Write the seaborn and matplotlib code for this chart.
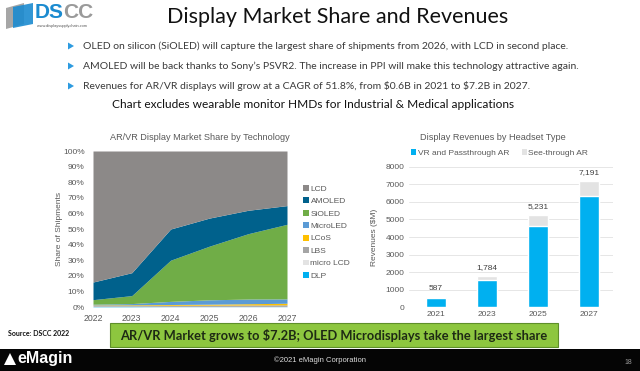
import matplotlib
matplotlib.use("Agg")
import matplotlib.pyplot as plt
import seaborn as sns
import pandas as pd
from matplotlib.patches import Rectangle, Polygon, Patch
from matplotlib.ticker import FuncFormatter

# --- data ---
years = [2022, 2023, 2024, 2025, 2026, 2027]
techs = ["DLP", "micro LCD", "LBS", "LCoS", "MicroLED", "SiOLED", "AMOLED", "LCD"]
dlp = [0.2, 0.2, 0.1, 0.1, 0.1, 0.1]
micro_lcd = [0.3, 0.3, 0.3, 0.3, 0.3, 0.3]
lbs = [0.5, 0.5, 0.7, 0.8, 0.9, 1.0]
lcos = [0.3, 0.4, 0.5, 0.6, 0.8, 1.0]
microled = [0.5, 0.8, 2.0, 2.8, 3.0, 2.8]
sioled = [2.9, 5.1, 26.4, 34.4, 41.9, 47.8]
amoled = [11.3, 14.7, 20.0, 18.0, 15.0, 12.0]
lcd = [84.0, 78.0, 50.0, 43.0, 38.0, 35.0]
tech_colors = ["#00B0F0", "#E3E3E3", "#A5A5A5", "#FFC000", "#5B9BD5", "#70AD47", "#00618C", "#8C8988"]

rev_years = ["2021", "2023", "2025", "2027"]
vr_passthrough = [550, 1560, 4630, 6340]
see_through = [37, 224, 601, 851]
rev_labels = ["587", "1,784", "5,231", "7,191"]

bullets = [
    "OLED on silicon (SiOLED) will capture the largest share of shipments from 2026, with LCD in second place.",
    "AMOLED will be back thanks to Sony\u2019s PSVR2. The increase in PPI will make this technology attractive again.",
    "Revenues for AR/VR displays will grow at a CAGR of 51.8%, from \\$0.6B in 2021 to \\$7.2B in 2027.",
]

sns.set_theme(style="white")
plt.rcParams["font.family"] = ["Liberation Sans", "DejaVu Sans"]
slide_font = ["Lato", "DejaVu Sans"]
W, H = 640, 371


def fx(px):
    return px / W


def fy(py):
    return 1 - py / H


fig = plt.figure(figsize=(6.4, 3.71), dpi=100)
fig.patch.set_facecolor("white")

# --- header: logo + title ---
fig.patches.append(Polygon([[fx(6), fy(8)], [fx(24), fy(3)], [fx(24), fy(24)], [fx(6), fy(29)]],
                           closed=True, transform=fig.transFigure, facecolor="#A6A6A6", edgecolor="none"))
fig.patches.append(Polygon([[fx(13), fy(7)], [fx(33), fy(3)], [fx(33), fy(24)], [fx(13), fy(28)]],
                           closed=True, transform=fig.transFigure, facecolor="#1B8BD0", edgecolor="none", alpha=0.9))
fig.text(fx(35), fy(13), "DS", color="#1B8BD0", fontsize=15, fontweight="bold", va="center", ha="left",
         family=["Liberation Sans"])
fig.text(fx(63), fy(13), "CC", color="#9A9A9A", fontsize=15, fontweight="bold", va="center", ha="left",
         family=["Liberation Sans"])
fig.text(fx(37), fy(26), "www.displaysupplychain.com", color="#555555", fontsize=2.8, va="center", ha="left")
fig.text(fx(338), fy(17), "Display Market Share and Revenues", fontsize=15.5, color="#111111",
         ha="center", va="center", family=slide_font)

bullet_y = [46, 66, 86]
for by, txt in zip(bullet_y, bullets):
    fig.patches.append(Polygon([[fx(68), fy(by - 3.5)], [fx(74), fy(by)], [fx(68), fy(by + 3.5)]],
                               closed=True, transform=fig.transFigure, facecolor="#2D9BE0", edgecolor="none"))
    fig.text(fx(83), fy(by), txt, fontsize=7.5, color="#3A3A3A", ha="left", va="center", family=slide_font)
fig.text(fx(313), fy(104), "Chart excludes wearable monitor HMDs for Industrial & Medical applications",
         fontsize=8.6, color="#111111", ha="center", va="center", family=slide_font)

# --- left chart: stacked area share ---
ax1 = fig.add_axes([fx(93), fy(307), fx(194), (307 - 151) / H])
series = [dlp, micro_lcd, lbs, lcos, microled, sioled, amoled, lcd]
ax1.stackplot(years, *series, colors=tech_colors, linewidth=0)
ax1.set_xlim(2022, 2027)
ax1.set_ylim(0, 100)
ax1.set_xticks(years)
ax1.set_yticks(range(0, 101, 10))
ax1.yaxis.set_major_formatter(FuncFormatter(lambda v, p: f"{int(v)}%"))
ax1.tick_params(axis="y", length=0, labelsize=6, colors="#595959", pad=6)
ax1.tick_params(axis="x", length=0, labelsize=6.3, colors="#595959", pad=5)
for s in ax1.spines.values():
    s.set_visible(False)
ax1.set_ylabel("Share of Shipments", fontsize=6, color="#595959", labelpad=0)
fig.text(fx(200), fy(137), "AR/VR Display Market Share by Technology", fontsize=6.6, color="#595959",
         ha="center", va="center")
handles = [Patch(facecolor=c, edgecolor="none", label=t) for t, c in zip(techs, tech_colors)][::-1]
fig.legend(handles=handles, loc="upper left", bbox_to_anchor=(fx(303), fy(185)), frameon=False,
           fontsize=6, labelcolor="#595959", handlelength=0.7, handleheight=0.7, handletextpad=0.2,
           labelspacing=0.55, borderaxespad=0, borderpad=0)

# --- right chart: stacked revenue bars ---
ax2 = fig.add_axes([fx(409), fy(307.3), fx(204), (307.3 - 166.7) / H])
df = pd.DataFrame({"year": rev_years, "vr": vr_passthrough, "see": see_through})
df["total"] = df["vr"] + df["see"]
sns.barplot(data=df, x="year", y="total", color="#E3E3E3", width=0.4, saturation=1, ax=ax2, zorder=2)
sns.barplot(data=df, x="year", y="vr", color="#00B0F0", width=0.4, saturation=1, ax=ax2, zorder=3)
ax2.set_xlim(-0.53, 3.47)
ax2.set_ylim(0, 8000)
ax2.set_yticks(range(0, 8001, 1000))
ax2.yaxis.grid(True, color="#E6E6E6", linewidth=0.7, zorder=0)
ax2.set_axisbelow(True)
for s in ax2.spines.values():
    s.set_visible(False)
ax2.tick_params(axis="both", length=0, labelsize=6, colors="#595959", pad=3)
ax2.set_xlabel("")
ax2.set_ylabel("Revenues (\\$M)", fontsize=6, color="#595959", labelpad=6)
for i, (tot, lab) in enumerate(zip(df["total"], rev_labels)):
    ax2.text(i, tot + 300, lab, ha="center", va="bottom", fontsize=6, color="#404040")
fig.text(fx(493), fy(137), "Display Revenues by Headset Type", fontsize=6.6, color="#595959",
         ha="center", va="center")
rev_handles = [Patch(facecolor="#00B0F0", edgecolor="none", label="VR and Passthrough AR"),
               Patch(facecolor="#E3E3E3", edgecolor="none", label="See-through AR")]
fig.legend(handles=rev_handles, loc="center left", bbox_to_anchor=(fx(411), fy(153)), ncol=2, frameon=False,
           fontsize=6, labelcolor="#595959", handlelength=0.6, handleheight=0.6, handletextpad=0.2,
           columnspacing=1.5, borderaxespad=0, borderpad=0)

# --- footer ---
fig.text(fx(8), fy(334), "Source: DSCC 2022", fontsize=5, fontweight="bold", color="#111111",
         ha="left", va="center", family=slide_font)
fig.patches.append(Rectangle((fx(110), fy(347)), fx(448), (347 - 323) / H, transform=fig.transFigure,
                             facecolor="#8DC63F", edgecolor="#5E8F2A", linewidth=0.8))
fig.text(fx(334), fy(335), "AR/VR Market grows to \\$7.2B; OLED Microdisplays take the largest share",
         fontsize=9.3, fontweight="bold", color="#1E2A14", ha="center", va="center", family=slide_font)
fig.patches.append(Rectangle((0, 0), 1, (371 - 349) / H, transform=fig.transFigure,
                             facecolor="#050505", edgecolor="none"))
fig.patches.append(Polygon([[fx(4), fy(365)], [fx(10), fy(353)], [fx(16), fy(365)]], closed=True,
                           transform=fig.transFigure, facecolor="white", edgecolor="none"))
fig.text(fx(17), fy(359), "eMagin", fontsize=11.5, fontweight="bold", color="white",
         ha="left", va="center", family=["Liberation Sans"])
fig.text(fx(320), fy(360), "\u00a92021 eMagin Corporation", fontsize=5.5, color="#DDDDDD",
         ha="center", va="center")
fig.text(fx(628), fy(363), "18", fontsize=5, color="#999999", ha="center", va="center")

fig.savefig("out.png", dpi=100)
